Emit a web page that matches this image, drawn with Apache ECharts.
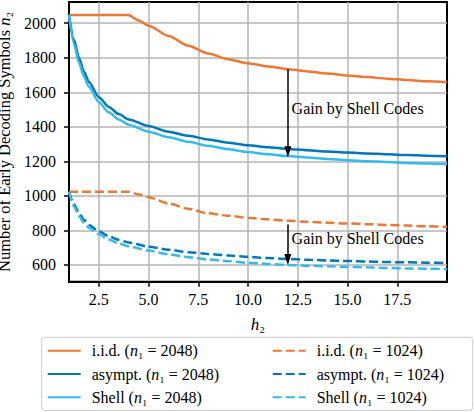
<!DOCTYPE html>
<html>
<head>
<meta charset="utf-8">
<script src="https://cdn.jsdelivr.net/npm/echarts@6/dist/echarts.min.js"></script>
<style>
  html, body { margin: 0; padding: 0; background: #fff; }
  #chart { width: 474px; height: 412px; }
</style>
</head>
<body>
<div id="chart"></div>
<script>
// x positions (h2) for the decaying curves
const xCurve = [1, 1.25, 1.5, 1.75, 2, 2.5, 3, 3.5, 4, 5, 6, 7, 8, 9, 10, 11, 12, 13, 14, 15, 16, 17, 18, 19, 20];
// x positions for the i.i.d. curves (flat until 4, then decaying)
const xIid = [1, 2, 3, 4, 4.5, 5, 6, 7, 8, 9, 10, 11, 12, 13, 14, 15, 16, 17, 18, 19, 20];

const iid2048 = [2048, 2048, 2048, 2048, 2016, 1986, 1926, 1870, 1824, 1792, 1768, 1750, 1734, 1721, 1709, 1698, 1688, 1679, 1671, 1664, 1658];
const asympt2048 = [2048, 1905, 1800, 1720, 1660, 1572, 1515, 1474, 1443, 1405, 1372, 1348, 1327, 1308, 1294, 1282, 1272, 1264, 1257, 1251, 1246, 1241, 1237, 1233, 1230];
const shell2048 = [2048, 1880, 1772, 1692, 1632, 1543, 1484, 1443, 1412, 1372, 1340, 1313, 1290, 1270, 1254, 1241, 1231, 1222, 1214, 1207, 1201, 1196, 1191, 1187, 1184];

const iid1024 = [1024, 1024, 1024, 1024, 1008, 992, 956, 925, 899, 885, 873, 864, 856, 850, 845, 840, 836, 832, 828, 824, 821];
const asympt1024 = [1024, 952, 900, 862, 832, 795, 766, 746, 730, 706, 688, 674, 664, 655, 647, 640, 635, 630, 626, 623, 620, 617, 615, 613, 611];
const shell1024 = [1024, 940, 884, 845, 815, 778, 747, 725, 708, 683, 662, 645, 632, 622, 613, 606, 600, 596, 592, 589, 586, 583, 580, 578, 576];

const xTicks = [2.5, 5, 7.5, 10, 12.5, 15, 17.5];
const yTicks = [600, 800, 1000, 1200, 1400, 1600, 1800, 2000];

// "Gain by Shell Codes" arrows: [h2, from, to (line end, head drawn past it)]
const gainTop = [12, 1733, 1256];
const gainBottom = [12, 835, 632];

const C_ORANGE = '#EE7733';
const C_BLUE = '#0077BB';
const C_CYAN = '#33BBEE';
const FONT = 'Liberation Serif';

function pairs(xs, ys) {
  return xs.map((x, i) => [x, ys[i]]);
}

function lineSeries(name, xs, ys, color, dashed) {
  return {
    name: name,
    type: 'line',
    data: pairs(xs, ys),
    showSymbol: false,
    symbol: 'none',
    smooth: 0.25,
    smoothMonotone: 'x',
    color: color,
    lineStyle: { color: color, width: 2.5, type: dashed ? [9, 4] : 'solid' },
    z: 3
  };
}

function gainArrow(g) {
  return {
    silent: true,
    symbol: ['none', 'triangle'],
    symbolSize: [7, 11],
    lineStyle: { color: '#000', width: 1.5, type: 'solid' },
    label: { show: false },
    data: [[{ coord: [g[0], g[1]] }, { coord: [g[0], g[2]] }]]
  };
}

function gainText(g, y) {
  return {
    silent: true,
    symbol: 'circle',
    symbolSize: 0,
    label: {
      show: true, position: 'right', distance: 0,
      formatter: 'Gain by Shell Codes',
      fontFamily: FONT, fontSize: 16, color: '#000'
    },
    data: [{ coord: [g[0] + 0.19, y] }]
  };
}

const names2048 = ['i.i.d. (n₁ = 2048)', 'asympt. (n₁ = 2048)', 'Shell (n₁ = 2048)'];
const names1024 = ['i.i.d. (n₁ = 1024)', 'asympt. (n₁ = 1024)', 'Shell (n₁ = 1024)'];

const s1 = lineSeries(names2048[0], xIid, iid2048, C_ORANGE, false);
const s2 = lineSeries(names2048[1], xCurve, asympt2048, C_BLUE, false);
const s3 = lineSeries(names2048[2], xCurve, shell2048, C_CYAN, false);
const s4 = lineSeries(names1024[0], xIid, iid1024, C_ORANGE, true);
const s5 = lineSeries(names1024[1], xCurve, asympt1024, C_BLUE, true);
const s6 = lineSeries(names1024[2], xCurve, shell1024, C_CYAN, true);
s3.markLine = gainArrow(gainTop);
s3.markPoint = gainText(gainTop, 1507);
s6.markLine = gainArrow(gainBottom);
s6.markPoint = gainText(gainBottom, 754);

function legendFmt(name) {
  // italic n for the n1 term
  return name.replace('n₁', '{i|n}₁');
}

const legendBase = {
  orient: 'vertical',
  top: 341.7,
  padding: 0,
  itemWidth: 33,
  itemHeight: 14,
  itemGap: 5.3,
  selectedMode: false,
  formatter: legendFmt,
  // hide the circle marker ECharts adds to line legend icons
  itemStyle: { opacity: 0 },
  textStyle: {
    fontFamily: FONT, fontSize: 16, lineHeight: 18, color: '#000',
    padding: [0, 0, 0, 6],
    rich: { i: { fontFamily: FONT, fontSize: 16, fontStyle: 'italic', color: '#000' } }
  }
};

const option = {
  animation: false,
  backgroundColor: '#fff',
  textStyle: { fontFamily: FONT, fontSize: 16, color: '#000' },
  grid: {
    left: 69, right: 27, top: 2, bottom: 130.3,
    outerBoundsMode: 'none',
    show: true, borderColor: '#000', borderWidth: 2, backgroundColor: 'transparent'
  },
  xAxis: {
    type: 'value',
    min: 1, max: 20,
    name: '{i|h}₂',
    nameLocation: 'middle',
    nameGap: 34,
    nameTextStyle: {
      fontFamily: FONT, fontSize: 17, color: '#000',
      rich: { i: { fontFamily: FONT, fontSize: 17, fontStyle: 'italic', color: '#000' } }
    },
    axisLine: { show: true, lineStyle: { color: '#000', width: 2 } },
    axisTick: { show: true, length: 5, lineStyle: { color: '#000', width: 1.5 }, customValues: xTicks },
    axisLabel: {
      customValues: xTicks, margin: 10,
      fontFamily: FONT, fontSize: 16, color: '#000',
      formatter: v => Number(v).toFixed(1)
    },
    splitLine: { show: true, lineStyle: { color: '#b4b4b4', width: 1.5 } }
  },
  yAxis: {
    type: 'value',
    min: 503, max: 2123,
    name: 'Number of Early Decoding Symbols {i|n}₂',
    nameLocation: 'middle',
    nameGap: 52,
    nameTextStyle: {
      fontFamily: FONT, fontSize: 16.5, color: '#000',
      rich: { i: { fontFamily: FONT, fontSize: 16.5, fontStyle: 'italic', color: '#000' } }
    },
    axisLine: { show: true, lineStyle: { color: '#000', width: 2 } },
    axisTick: { show: true, length: 5, lineStyle: { color: '#000', width: 1.5 }, customValues: yTicks },
    axisLabel: {
      customValues: yTicks, margin: 13,
      fontFamily: FONT, fontSize: 16, color: '#000',
      formatter: v => String(Math.round(v))
    },
    splitLine: { show: true, lineStyle: { color: '#b4b4b4', width: 1.5 } }
  },
  legend: [
    Object.assign({}, legendBase, { left: 46.7, data: names2048 }),
    Object.assign({}, legendBase, { left: 271.7, data: names1024 })
  ],
  graphic: [{
    type: 'rect',
    z: -1,
    shape: { x: 41.7, y: 337.3, width: 431, height: 73, r: 3 },
    style: { fill: '#fff', stroke: '#cccccc', lineWidth: 1 }
  }],
  series: [s1, s2, s3, s4, s5, s6]
};

const chart = echarts.init(document.getElementById('chart'), null, { renderer: 'svg' });
chart.setOption(option);
</script>
</body>
</html>
